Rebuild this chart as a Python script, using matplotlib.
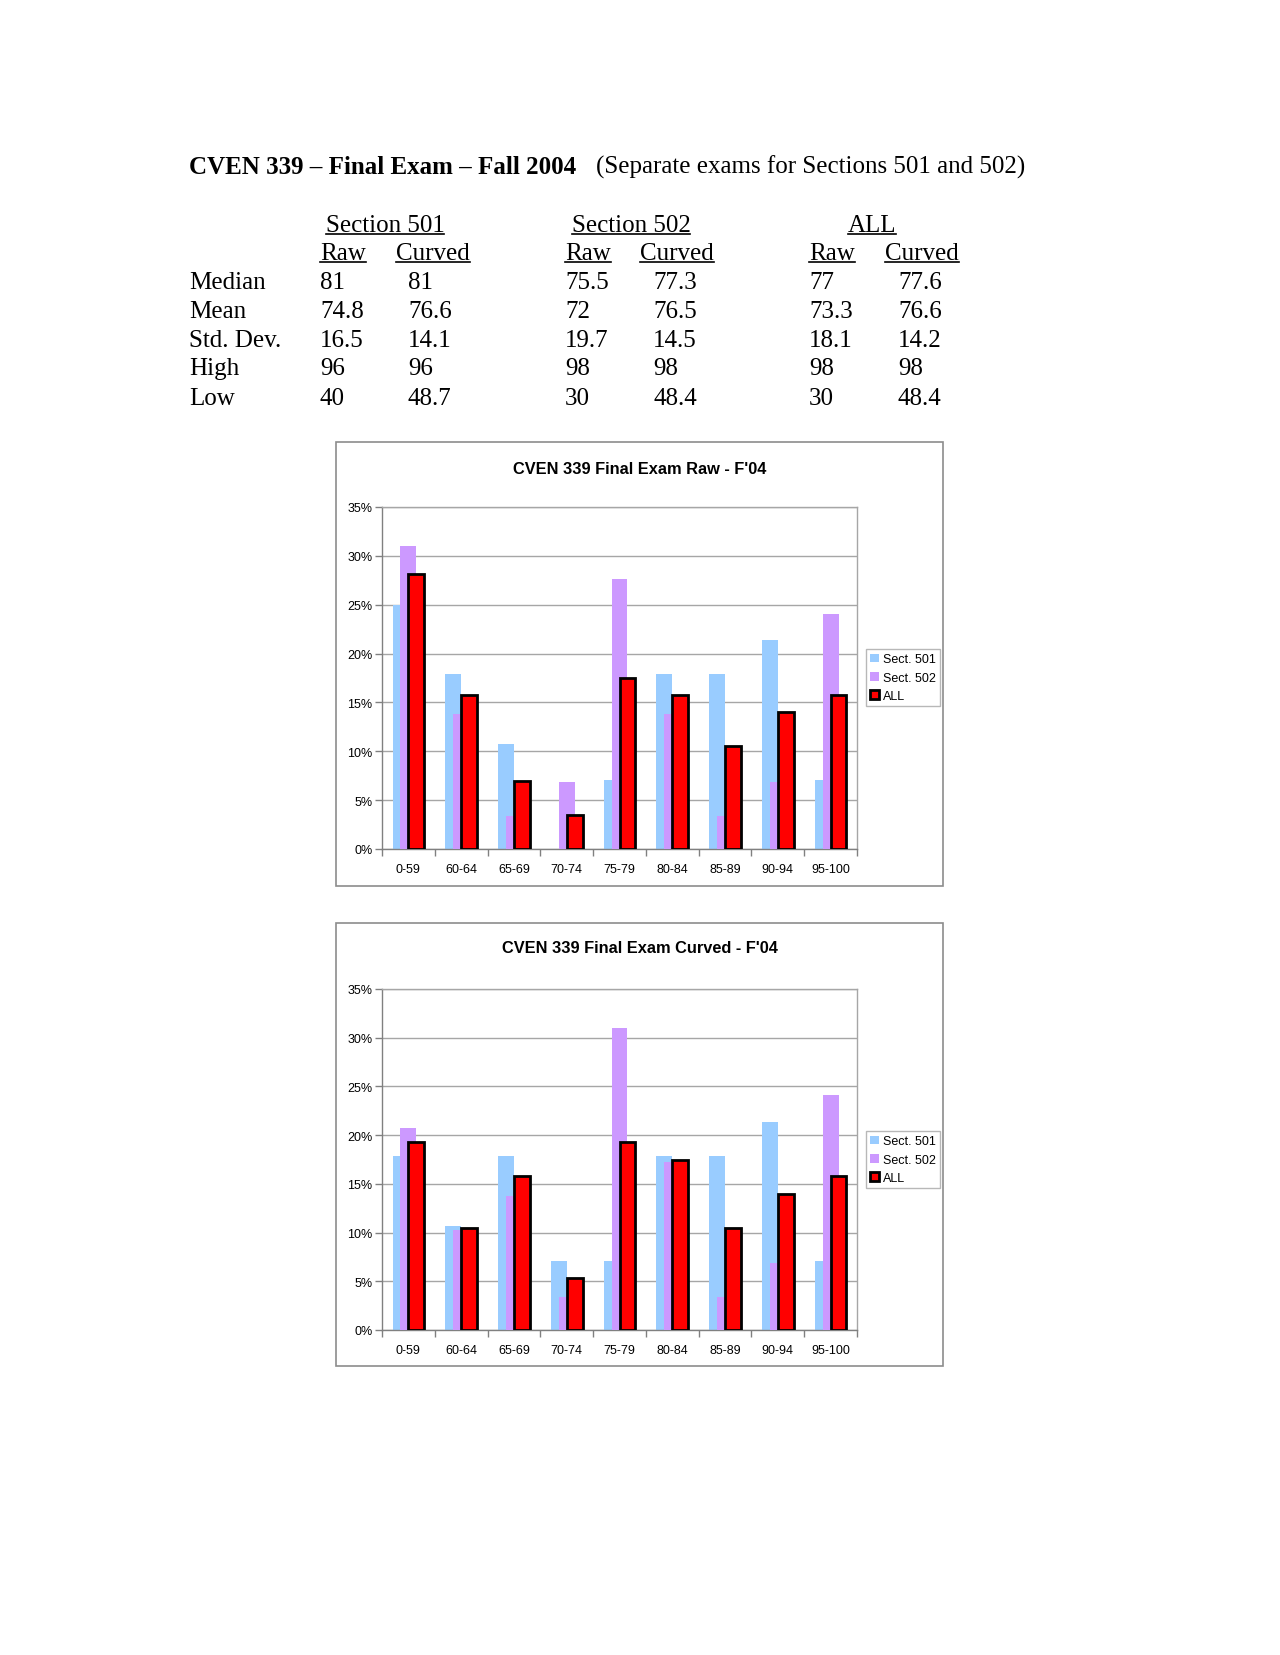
import numpy as np
import matplotlib.pyplot as plt
from matplotlib.patches import Rectangle
from matplotlib.lines import Line2D

W, H = 1280, 1656

# score bins
bins = ["0-59", "60-64", "65-69", "70-74", "75-79", "80-84", "85-89", "90-94", "95-100"]

# raw score distribution (fraction of students)
raw_501 = [0.250, 0.179, 0.107, 0.0, 0.071, 0.179, 0.179, 0.214, 0.071]
raw_502 = [0.310, 0.138, 0.034, 0.069, 0.276, 0.138, 0.034, 0.069, 0.241]
raw_all = [0.281, 0.158, 0.070, 0.035, 0.175, 0.158, 0.105, 0.140, 0.158]

# curved score distribution
cur_501 = [0.179, 0.107, 0.179, 0.071, 0.071, 0.179, 0.179, 0.214, 0.071]
cur_502 = [0.207, 0.103, 0.138, 0.034, 0.310, 0.172, 0.034, 0.069, 0.241]
cur_all = [0.193, 0.105, 0.158, 0.053, 0.193, 0.175, 0.105, 0.140, 0.158]

# summary table
row_names = ["Median", "Mean", "Std. Dev.", "High", "Low"]
sec501_raw = ["81", "74.8", "16.5", "96", "40"]
sec501_cur = ["81", "76.6", "14.1", "96", "48.7"]
sec502_raw = ["75.5", "72", "19.7", "98", "30"]
sec502_cur = ["77.3", "76.5", "14.5", "98", "48.4"]
all_raw = ["77", "73.3", "18.1", "98", "30"]
all_cur = ["77.6", "76.6", "14.2", "98", "48.4"]

fig = plt.figure(figsize=(W / 100, H / 100), dpi=100)
fig.patch.set_facecolor("white")


def fx(px):
    return px / W


def fy(py):
    return 1 - py / H


serif = ["Liberation Serif", "DejaVu Serif"]
sans = ["Liberation Sans", "DejaVu Sans"]

# ---- heading and table ----
fig.text(fx(189), fy(174), "CVEN 339 \u2013 Final Exam \u2013 Fall 2004", family=serif,
         fontsize=18, weight="bold", va="baseline")
fig.text(fx(596), fy(174), "(Separate exams for Sections 501 and 502)", family=serif,
         fontsize=18, va="baseline")

underlined = []
groups = [("Section 501", 385, 320, 396, 408, sec501_raw, sec501_cur),
          ("Section 502", 631, 565, 640, 653, sec502_raw, sec502_cur),
          ("ALL", 872, 809, 885, 898, all_raw, all_cur)]
row_y = [289, 318, 347, 375, 405]

for name, cx, x_raw, x_hdr, x_cur, vr, vc in groups:
    underlined.append(fig.text(fx(cx), fy(232), name, family=serif, fontsize=18,
                               ha="center", va="baseline"))
    underlined.append(fig.text(fx(x_raw), fy(260), "Raw", family=serif, fontsize=18,
                               va="baseline"))
    underlined.append(fig.text(fx(x_hdr), fy(260), "Curved", family=serif, fontsize=18,
                               va="baseline"))
    for y, a, b in zip(row_y, vr, vc):
        fig.text(fx(x_raw), fy(y), a, family=serif, fontsize=18, va="baseline")
        fig.text(fx(x_cur), fy(y), b, family=serif, fontsize=18, va="baseline")

for y, name in zip(row_y, row_names):
    fig.text(fx(189), fy(y), name, family=serif, fontsize=18, va="baseline")

fig.canvas.draw()
r = fig.canvas.get_renderer()
for t in underlined:
    bb = t.get_window_extent(r)
    _, ybase = t.get_transform().transform(t.get_position())
    fig.add_artist(Line2D([bb.x0 / W, bb.x1 / W], [(ybase - 3) / H, (ybase - 3) / H],
                          transform=fig.transFigure, color="black", lw=1.2))


# ---- charts ----
def chart(box, ax_rect, title, title_y, leg_top, s501, s502, sall):
    x0, y0, x1, y1 = box
    fig.add_artist(Rectangle((fx(x0), fy(y1)), fx(x1 - x0), (y1 - y0) / H,
                             transform=fig.transFigure, fill=False,
                             edgecolor="#8c8c8c", lw=1.2))
    ax = fig.add_axes(ax_rect)
    x = np.arange(len(bins))
    w = 0.3
    b1 = ax.bar(x - 0.15, s501, w, color="#99ccff", label="Sect. 501", zorder=2)
    b2 = ax.bar(x, s502, w, color="#cc99ff", label="Sect. 502", zorder=3)
    b3 = ax.bar(x + 0.15, sall, w, color="#ff0000", edgecolor="black", lw=2,
                label="ALL", zorder=4)
    ax.set_xlim(-0.5, len(bins) - 0.5)
    ax.set_ylim(0, 0.35)
    ax.set_yticks(np.arange(0, 0.351, 0.05))
    ax.set_yticklabels([f"{int(round(v * 100))}%" for v in np.arange(0, 0.351, 0.05)],
                       family=sans, fontsize=9)
    ax.yaxis.grid(True, color="#a6a6a6", lw=1, zorder=0)
    ax.set_axisbelow(True)
    ax.set_xticks(x)
    ax.set_xticklabels(bins, family=sans, fontsize=9)
    ax.set_xticks(np.arange(-0.5, len(bins), 1), minor=True)
    ax.tick_params(axis="x", which="major", length=0, pad=10)
    ax.tick_params(axis="x", which="minor", length=5, color="#808080", width=1)
    ax.tick_params(axis="y", length=5, color="#808080", width=1, pad=2)
    for s in ["top", "right"]:
        ax.spines[s].set_color("#a6a6a6")
    for s in ["left", "bottom"]:
        ax.spines[s].set_color("#808080")
    for s in ax.spines.values():
        s.set_linewidth(1)
    fig.text(fx((x0 + x1) / 2), fy(title_y), title, family=sans, fontsize=11.8,
             weight="bold", ha="center", va="center")
    leg = ax.legend(handles=[b1, b2, b3], loc="upper left",
                    bbox_to_anchor=(fx(866), fy(leg_top)), bbox_transform=fig.transFigure,
                    prop={"family": sans, "size": 9}, frameon=True, fancybox=False,
                    edgecolor="#a6a6a6", handlelength=0.7, handleheight=0.7,
                    handletextpad=0.3, labelspacing=0.5, borderpad=0.35,
                    borderaxespad=0)
    leg.get_frame().set_linewidth(1)


ax_w = fx(857) - fx(382)
chart((336, 443, 943, 887), [fx(382), fy(850), ax_w, 342 / H],
      "CVEN 339 Final Exam Raw - F'04", 470, 650, raw_501, raw_502, raw_all)
chart((336, 924, 943, 1367), [fx(382), fy(1331), ax_w, 341 / H],
      "CVEN 339 Final Exam Curved - F'04", 949, 1132, cur_501, cur_502, cur_all)

fig.savefig("out.png", dpi=100, facecolor="white")
